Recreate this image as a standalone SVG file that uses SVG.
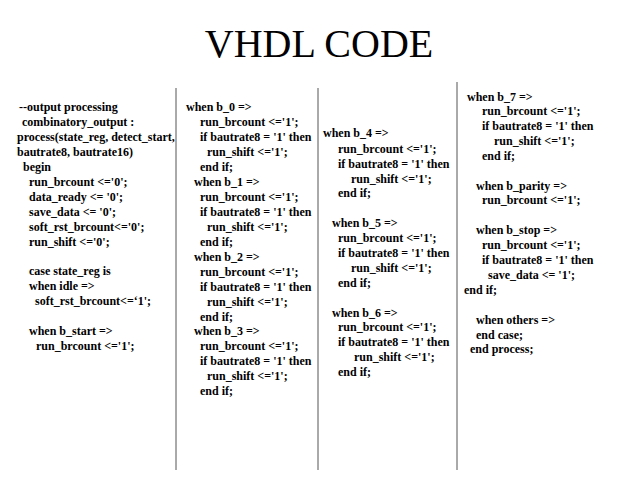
<svg xmlns="http://www.w3.org/2000/svg" width="638" height="478" viewBox="0 0 638 478">
<style>
.t{font-family:"Liberation Serif","Times New Roman",serif;font-size:12px;font-weight:bold;fill:#000}
.ttl{font-family:"Liberation Serif","Times New Roman",serif;font-size:40px;fill:#000}
.sep{stroke:#555;stroke-width:1}
</style>
<rect width="638" height="478" fill="#fff"/>
<text class="ttl" x="319" y="57" text-anchor="middle">VHDL CODE</text>
<g id="separators">
<line class="sep" x1="176" y1="88" x2="176" y2="470"/>
<line class="sep" x1="318" y1="88" x2="318" y2="470"/>
<line class="sep" x1="457" y1="82" x2="457" y2="470"/>
</g>
<g id="col1" class="t">
<text x="19" y="111">--output processing</text>
<text x="22" y="126">combinatory_output :</text>
<text x="17" y="141">process(state_reg, detect_start,</text>
<text x="17" y="156">bautrate8, bautrate16)</text>
<text x="23" y="171">begin</text>
<text x="29" y="186">run_brcount &lt;='0';</text>
<text x="29" y="201">data_ready &lt;= '0';</text>
<text x="29" y="216">save_data &lt;= '0';</text>
<text x="29" y="231">soft_rst_brcount&lt;='0';</text>
<text x="29" y="246">run_shift &lt;='0';</text>
<text x="29" y="275">case state_reg is</text>
<text x="29" y="290">when idle =&gt;</text>
<text x="35" y="305">soft_rst_brcount&lt;=‘1';</text>
<text x="29" y="335">when b_start =&gt;</text>
<text x="36" y="350">run_brcount &lt;='1';</text>
</g>
<g id="col2" class="t">
<text x="186" y="111">when b_0 =&gt;</text>
<text x="200" y="126">run_brcount &lt;='1';</text>
<text x="200" y="141">if bautrate8  = '1' then</text>
<text x="207" y="156">run_shift &lt;='1';</text>
<text x="200" y="171">end if;</text>
<text x="194" y="186">when b_1 =&gt;</text>
<text x="200" y="201">run_brcount &lt;='1';</text>
<text x="200" y="216">if bautrate8  = '1' then</text>
<text x="207" y="231">run_shift &lt;='1';</text>
<text x="200" y="246">end if;</text>
<text x="194" y="261">when b_2 =&gt;</text>
<text x="200" y="276">run_brcount &lt;='1';</text>
<text x="200" y="291">if bautrate8  = '1' then</text>
<text x="207" y="306">run_shift &lt;='1';</text>
<text x="200" y="321">end if;</text>
<text x="194" y="335">when b_3 =&gt;</text>
<text x="200" y="350">run_brcount &lt;='1';</text>
<text x="200" y="365">if bautrate8  = '1' then</text>
<text x="207" y="380">run_shift &lt;='1';</text>
<text x="200" y="395">end if;</text>
</g>
<g id="col3" class="t">
<text x="323" y="137">when b_4 =&gt;</text>
<text x="338" y="153">run_brcount &lt;='1';</text>
<text x="338" y="168">if bautrate8  = '1' then</text>
<text x="351" y="183">run_shift &lt;='1';</text>
<text x="338" y="197">end if;</text>
<text x="332" y="227">when b_5 =&gt;</text>
<text x="338" y="242">run_brcount &lt;='1';</text>
<text x="338" y="257">if bautrate8  = '1' then</text>
<text x="351" y="272">run_shift &lt;='1';</text>
<text x="338" y="287">end if;</text>
<text x="332" y="317">when b_6 =&gt;</text>
<text x="338" y="331">run_brcount &lt;='1';</text>
<text x="338" y="346">if bautrate8  = '1' then</text>
<text x="354" y="361">run_shift &lt;='1';</text>
<text x="338" y="376">end if;</text>
</g>
<g id="col4" class="t">
<text x="467" y="101">when b_7 =&gt;</text>
<text x="482" y="115">run_brcount &lt;='1';</text>
<text x="482" y="130">if bautrate8  = '1' then</text>
<text x="494" y="145">run_shift &lt;='1';</text>
<text x="482" y="160">end if;</text>
<text x="476" y="190">when b_parity =&gt;</text>
<text x="482" y="204">run_brcount &lt;='1';</text>
<text x="476" y="234">when b_stop =&gt;</text>
<text x="482" y="249">run_brcount &lt;='1';</text>
<text x="482" y="264">if bautrate8 = '1' then</text>
<text x="488" y="279">save_data &lt;= '1';</text>
<text x="464" y="294">end if;</text>
<text x="476" y="324">when others =&gt;</text>
<text x="476" y="339">end case;</text>
<text x="470" y="353">end process;</text>
</g>
</svg>
